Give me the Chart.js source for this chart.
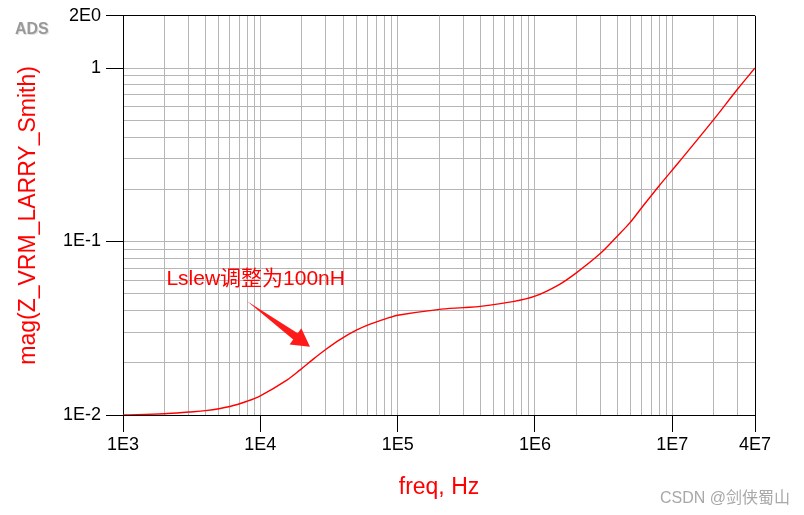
<!DOCTYPE html>
<html>
<head>
<meta charset="utf-8">
<script src="https://cdn.jsdelivr.net/npm/chart.js@4.4.1/dist/chart.umd.min.js"></script>
<style>
  html, body { margin: 0; padding: 0; background: #fff; }
  canvas { display: block; }
</style>
</head>
<body>
<canvas id="zChart" width="804" height="515"></canvas>
<script>
// values (freq in Hz, |Z| in ohm)
const freqHz = [1e3, 2e3, 3e3, 4e3, 6e3, 8e3, 1e4, 1.56e4, 1.95e4, 2.43e4, 2.96e4, 3.8e4,
    5e4, 6.3e4, 8.8e4, 1e5, 1.96e5, 3e5, 4e5, 6.9e5, 1e6, 1.5e6, 2e6, 3e6, 4e6, 4.9e6, 6e6,
    8e6, 1.13e7, 2e7, 3e7, 4e7];
const magZ = [0.0100, 0.01017, 0.0104, 0.0106, 0.0112, 0.0120, 0.0129, 0.0159, 0.0182,
    0.0210, 0.0237, 0.0272, 0.0308, 0.0334, 0.0365, 0.0376, 0.0405, 0.0416, 0.0423,
    0.0450, 0.0484, 0.0565, 0.0660, 0.0855, 0.108, 0.128, 0.157, 0.209, 0.290, 0.504, 0.759, 1.0];

const xMajor = [1e3, 1e4, 1e5, 1e6, 1e7, 4e7];
const xMajorText = ['1E3', '1E4', '1E5', '1E6', '1E7', '4E7'];
const yMajor = [0.01, 0.1, 1, 2];
const yMajorText = ['1E-2', '1E-1', '1', '2E0'];

const noteText = 'Lslew调整为100nH';
const noteAt = [2.07e3, 0.0558];      // text start (freq, mag)
const arrowFrom = [7.97e3, 0.0454];
const arrowTo = [2.3e4, 0.0247];

// log grid: 1..9 in every decade, up to the axis limit
function logTicks(lo, hi) {
    const out = [];
    for (let d = Math.floor(Math.log10(lo)); d <= Math.ceil(Math.log10(hi)); d++) {
        for (let m = 1; m <= 9; m++) {
            const v = Number((m * Math.pow(10, d)).toPrecision(3));
            if (v >= lo && v <= hi) out.push(v);
        }
    }
    return out;
}

const same = (a, b) => Math.abs(a - b) / b < 1e-6;
const labelFor = (v, vals, texts) => {
    const i = vals.findIndex(m => same(v, m));
    return i < 0 ? '' : texts[i];
};

const GRID = '#b6b6b6';
const FONT = 'Arial, "Liberation Sans", "Noto Sans CJK SC", sans-serif';
Chart.defaults.font.family = FONT;

const extras = {
    id: 'extras',
    afterDraw(chart) {
        const ctx = chart.ctx;
        const xs = chart.scales.x, ys = chart.scales.y;
        ctx.save();

        // ADS logo
        ctx.font = 'bold 16px ' + FONT;
        ctx.textBaseline = 'alphabetic';
        ctx.fillStyle = '#e2e2e2';
        ctx.fillText('ADS', 16, 35);
        ctx.fillStyle = '#999999';
        ctx.fillText('ADS', 15, 34);

        // note
        ctx.font = '21px ' + FONT;
        ctx.fillStyle = '#ff0000';
        ctx.fillText(noteText, xs.getPixelForValue(noteAt[0]), ys.getPixelForValue(noteAt[1]));

        // arrow
        const tx = xs.getPixelForValue(arrowFrom[0]), ty = ys.getPixelForValue(arrowFrom[1]);
        const hx = xs.getPixelForValue(arrowTo[0]), hy = ys.getPixelForValue(arrowTo[1]);
        const len = Math.hypot(hx - tx, hy - ty);
        const ux = (hx - tx) / len, uy = (hy - ty) / len;
        const nx = -uy, ny = ux;
        const headLen = 18, headW = 10, shaftW = 3.8;
        const bx = hx - ux * headLen, by = hy - uy * headLen;
        ctx.beginPath();
        ctx.moveTo(tx, ty);
        ctx.lineTo(bx + nx * shaftW, by + ny * shaftW);
        ctx.lineTo(bx + nx * headW, by + ny * headW);
        ctx.lineTo(hx, hy);
        ctx.lineTo(bx - nx * headW, by - ny * headW);
        ctx.lineTo(bx - nx * shaftW, by - ny * shaftW);
        ctx.closePath();
        ctx.fillStyle = '#ff1a1a';
        ctx.fill();

        // watermark
        ctx.font = '16px ' + FONT;
        ctx.fillStyle = '#a8a8a8';
        ctx.textAlign = 'right';
        ctx.fillText('CSDN @剑侠蜀山', chart.width - 14, 503);
        ctx.restore();
    }
};

new Chart(document.getElementById('zChart'), {
    type: 'line',
    data: {
        datasets: [{
            data: freqHz.map((f, i) => ({ x: f, y: magZ[i] })),
            borderColor: '#ff0000',
            borderWidth: 1.4,
            pointRadius: 0,
            tension: 0.35,
            fill: false
        }]
    },
    options: {
        responsive: false,
        animation: false,
        devicePixelRatio: 1,
        layout: { padding: { top: 14, right: 49, left: 0, bottom: 0 } },
        plugins: { legend: { display: false }, tooltip: { enabled: false } },
        scales: {
            x: {
                type: 'logarithmic',
                min: 1e3,
                max: 4e7,
                afterBuildTicks: s => { s.ticks = logTicks(1e3, 4e7).map(v => ({ value: v })); },
                afterFit: s => { s.height = 100; },
                ticks: {
                    autoSkip: false,
                    maxRotation: 0,
                    padding: 2,
                    color: '#000',
                    font: { size: 18 },
                    callback: v => labelFor(v, xMajor, xMajorText)
                },
                grid: {
                    tickLength: 17,
                    color: c => same(c.tick.value, 4e7) ? '#000' : GRID,
                    tickColor: c => labelFor(c.tick.value, xMajor, xMajorText) ? '#000' : 'rgba(0,0,0,0)',
                    lineWidth: 1
                },
                border: { color: '#000', width: 1 },
                title: {
                    display: true,
                    text: 'freq, Hz',
                    color: '#ff0000',
                    font: { size: 23 },
                    padding: { top: 0, bottom: 14 }
                }
            },
            y: {
                type: 'logarithmic',
                min: 0.01,
                max: 2,
                afterBuildTicks: s => { s.ticks = logTicks(0.01, 2).map(v => ({ value: v })); },
                afterFit: s => { s.width = 123; },
                ticks: {
                    autoSkip: false,
                    padding: 5,
                    color: '#000',
                    font: { size: 18 },
                    callback: v => labelFor(v, yMajor, yMajorText)
                },
                grid: {
                    tickLength: 17,
                    color: c => same(c.tick.value, 2) ? '#000' : GRID,
                    tickColor: c => labelFor(c.tick.value, yMajor, yMajorText) ? '#000' : 'rgba(0,0,0,0)',
                    lineWidth: 1
                },
                border: { color: '#000', width: 1 },
                title: {
                    display: true,
                    text: 'mag(Z_VRM_LARRY_Smith)',
                    color: '#ff0000',
                    font: { size: 23 },
                    padding: { top: 15, bottom: 0 }
                }
            }
        }
    },
    plugins: [extras]
});
</script>
</body>
</html>
